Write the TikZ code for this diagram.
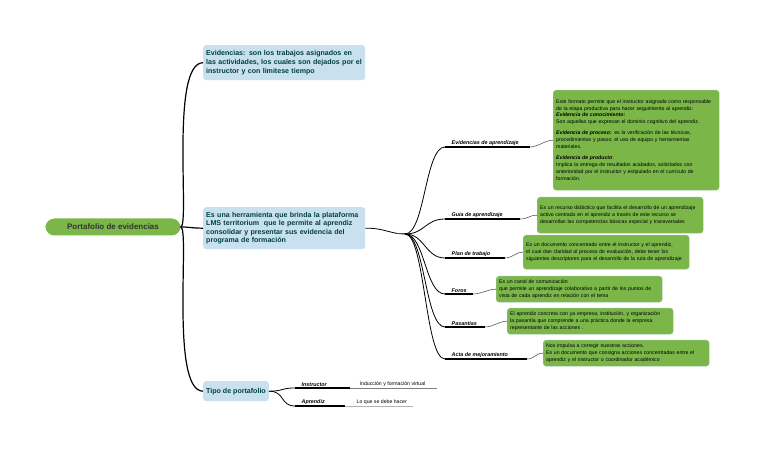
\documentclass[tikz,border=0pt]{standalone}
\usepackage{fontspec}
\setmainfont{Liberation Sans}
\hyphenpenalty=10000
\exhyphenpenalty=10000
\begin{document}
\begin{tikzpicture}[x=1bp,y=-1bp,
 blue/.style={draw=none,fill=bl,rounded corners=3bp,text=teal!50!black,font=\bfseries\fontsize{7.1}{8.6}\selectfont,align=left,inner sep=3bp},
 gbox/.style={draw=green!40!black!40,fill=gr,rounded corners=3bp,font=\fontsize{5.2}{7}\selectfont,align=left,inner sep=3bp,anchor=north west,text width=160bp},
 lbl/.style={font=\bfseries\itshape\fontsize{5.4}{6}\selectfont,anchor=south west,inner sep=1.5bp},
 br/.style={line width=0.8bp},
 ul/.style={line width=1.1bp}]
\definecolor{gr}{HTML}{7AB648}
\definecolor{bl}{HTML}{C8E0F0}
\useasboundingbox (0,0) rectangle (768,453);
% central
\node[fill=gr,rounded corners=9bp,minimum width=135bp,minimum height=17bp,font=\bfseries\fontsize{8}{9}\selectfont,text=black!80] (c) at (113,227) {Portafolio de evidencias};
\node[blue,text width=156bp,minimum height=35bp,anchor=north west] (b1) at (203,45) {Evidencias: son los trabajos asignados en las actividades, los cuales son dejados por el instructor y con limitese tiempo};
\node[blue,text width=156bp,minimum height=42bp,anchor=north west] (b2) at (203,207) {Es una herramienta que brinda la plataforma LMS territorium\ \ que le permite al aprendiz consolidar y presentar sus evidencia del programa de formación};
\node[blue,minimum height=20bp,anchor=north west] (b3) at (203,381) {Tipo de portafolio};
\draw[line width=1.2bp] (c.east) .. controls (190,227) and (170,63) .. (b1.west);
\draw[line width=1.2bp] (c.east) .. controls (190,227) and (190,228) .. (b2.west);
\draw[line width=1.2bp] (c.east) .. controls (190,227) and (170,391) .. (b3.west);
% hub
\coordinate (h) at (405,234);
\draw[br] (b2.east) .. controls (385,228) and (390,234) .. (h);
\draw[green!50!black,line width=1bp] (395,234)--(h);
% labels
\foreach \n/\t/\yy/\w in {l1/Evidencias de aprendizaje/147/85,l2/Guia de aprendizaje/219/75,l3/Plan de trabajo/258/60,l4/Foros/294/28,l5/Pasantias/327/40,l6/Acta de mejoramiento/359/82}{
 \node[lbl] (\n) at (450,\yy) {\t};
 \coordinate (\n s) at (445,\yy);
 \coordinate (\n e) at (445+\w,\yy);
 \draw[ul] (\n s)--(\n e);
 \draw[br] (h) .. controls (425,234) and (425,\yy) .. (\n s);
}
\node[gbox,minimum height=100bp] (g1) at (553,90) {Este formato permite que el instructor asignado como responsable de la etapa productiva para hacer seguimiento al aprendiz:\\[-0.5bp]
\textbf{\textit{Evidencia de conocimiento:}}\\Son aquellas que expresan el dominio cognitivo del aprendiz.\\[4bp]
\textbf{\textit{Evidencia de proceso:}} es la verificación de las técnicas, procedimientos y pasos; el uso de equipo y herramientas materiales.\\[4bp]
\textbf{\textit{Evidencia de producto}}:\\Implica la entrega de resultados acabados, solicitados con anterioridad por el instructor y estipulado en el currículo de formación.};
\node[gbox,minimum height=36bp] (g2) at (537,197) {Es un recurso didáctico que facilita el desarrollo de un aprendizaje activo centrado en el aprendiz a través de este recurso se desarrollan las competencias básicas especial y transversales};
\node[gbox,minimum height=34bp] (g3) at (523,235) {Es un documento concentrado entre el instructor y el aprendiz, el cual dan claridad al proceso de evaluación, debe tener los siguientes descriptores para el desarrollo de la ruta de aprendizaje};
\node[gbox,minimum height=26bp] (g4) at (496,276) {Es un canal de comunicación\\que permite un aprendizaje colaborativo a partir de los puntos de vista de cada aprendiz en relación con el tema};
\node[gbox,minimum height=26bp] (g5) at (507,308) {El aprendiz concreta con ya empresa, institución, y organización la pasantía que comprende a una práctica donde la empresa representante de las acciones .};
\node[gbox,minimum height=26bp] (g6) at (543,340) {Nos impulsa a corregir nuestras acciones.\\Es un documento que consigna acciones concentradas entre el aprendiz y el instructor o coordinador académico};
\foreach \a/\b in {l1/g1,l2/g2,l3/g3,l4/g4,l5/g5,l6/g6}{
 \draw[gray!70!black,line width=0.6bp] (\a e) .. controls +(8,0) and ([xshift=-8bp]\b.west) .. (\b.west);
}
% tipo
\node[lbl] (i1) at (300,388) {Instructor};
\coordinate (i1s) at (295,388); \coordinate (i1e) at (350,388);
\node[font=\fontsize{5.2}{6}\selectfont,anchor=south west,inner sep=1.5bp] (i2) at (358,388) {Inducción y formación virtual};
\coordinate (i2e) at (437,388);
\node[lbl] (a1) at (300,406) {Aprendiz};
\coordinate (a1s) at (295,406); \coordinate (a1e) at (345,406);
\node[font=\fontsize{5.2}{6}\selectfont,anchor=south west,inner sep=1.5bp] (a2) at (355,406) {Lo que se debe hacer};
\coordinate (a2e) at (413,406);
\draw[ul] (i1s)--(i1e); \draw[gray,line width=0.7bp] (i1e)--(i2e);
\draw[ul] (a1s)--(a1e); \draw[gray!60,line width=0.5bp] (a1e)--(a2e);
\draw[br] (b3.east) .. controls (285,391) and (280,388) .. (i1s);
\draw[br] (b3.east) .. controls (285,391) and (280,406) .. (a1s);
\end{tikzpicture}
\end{document}
